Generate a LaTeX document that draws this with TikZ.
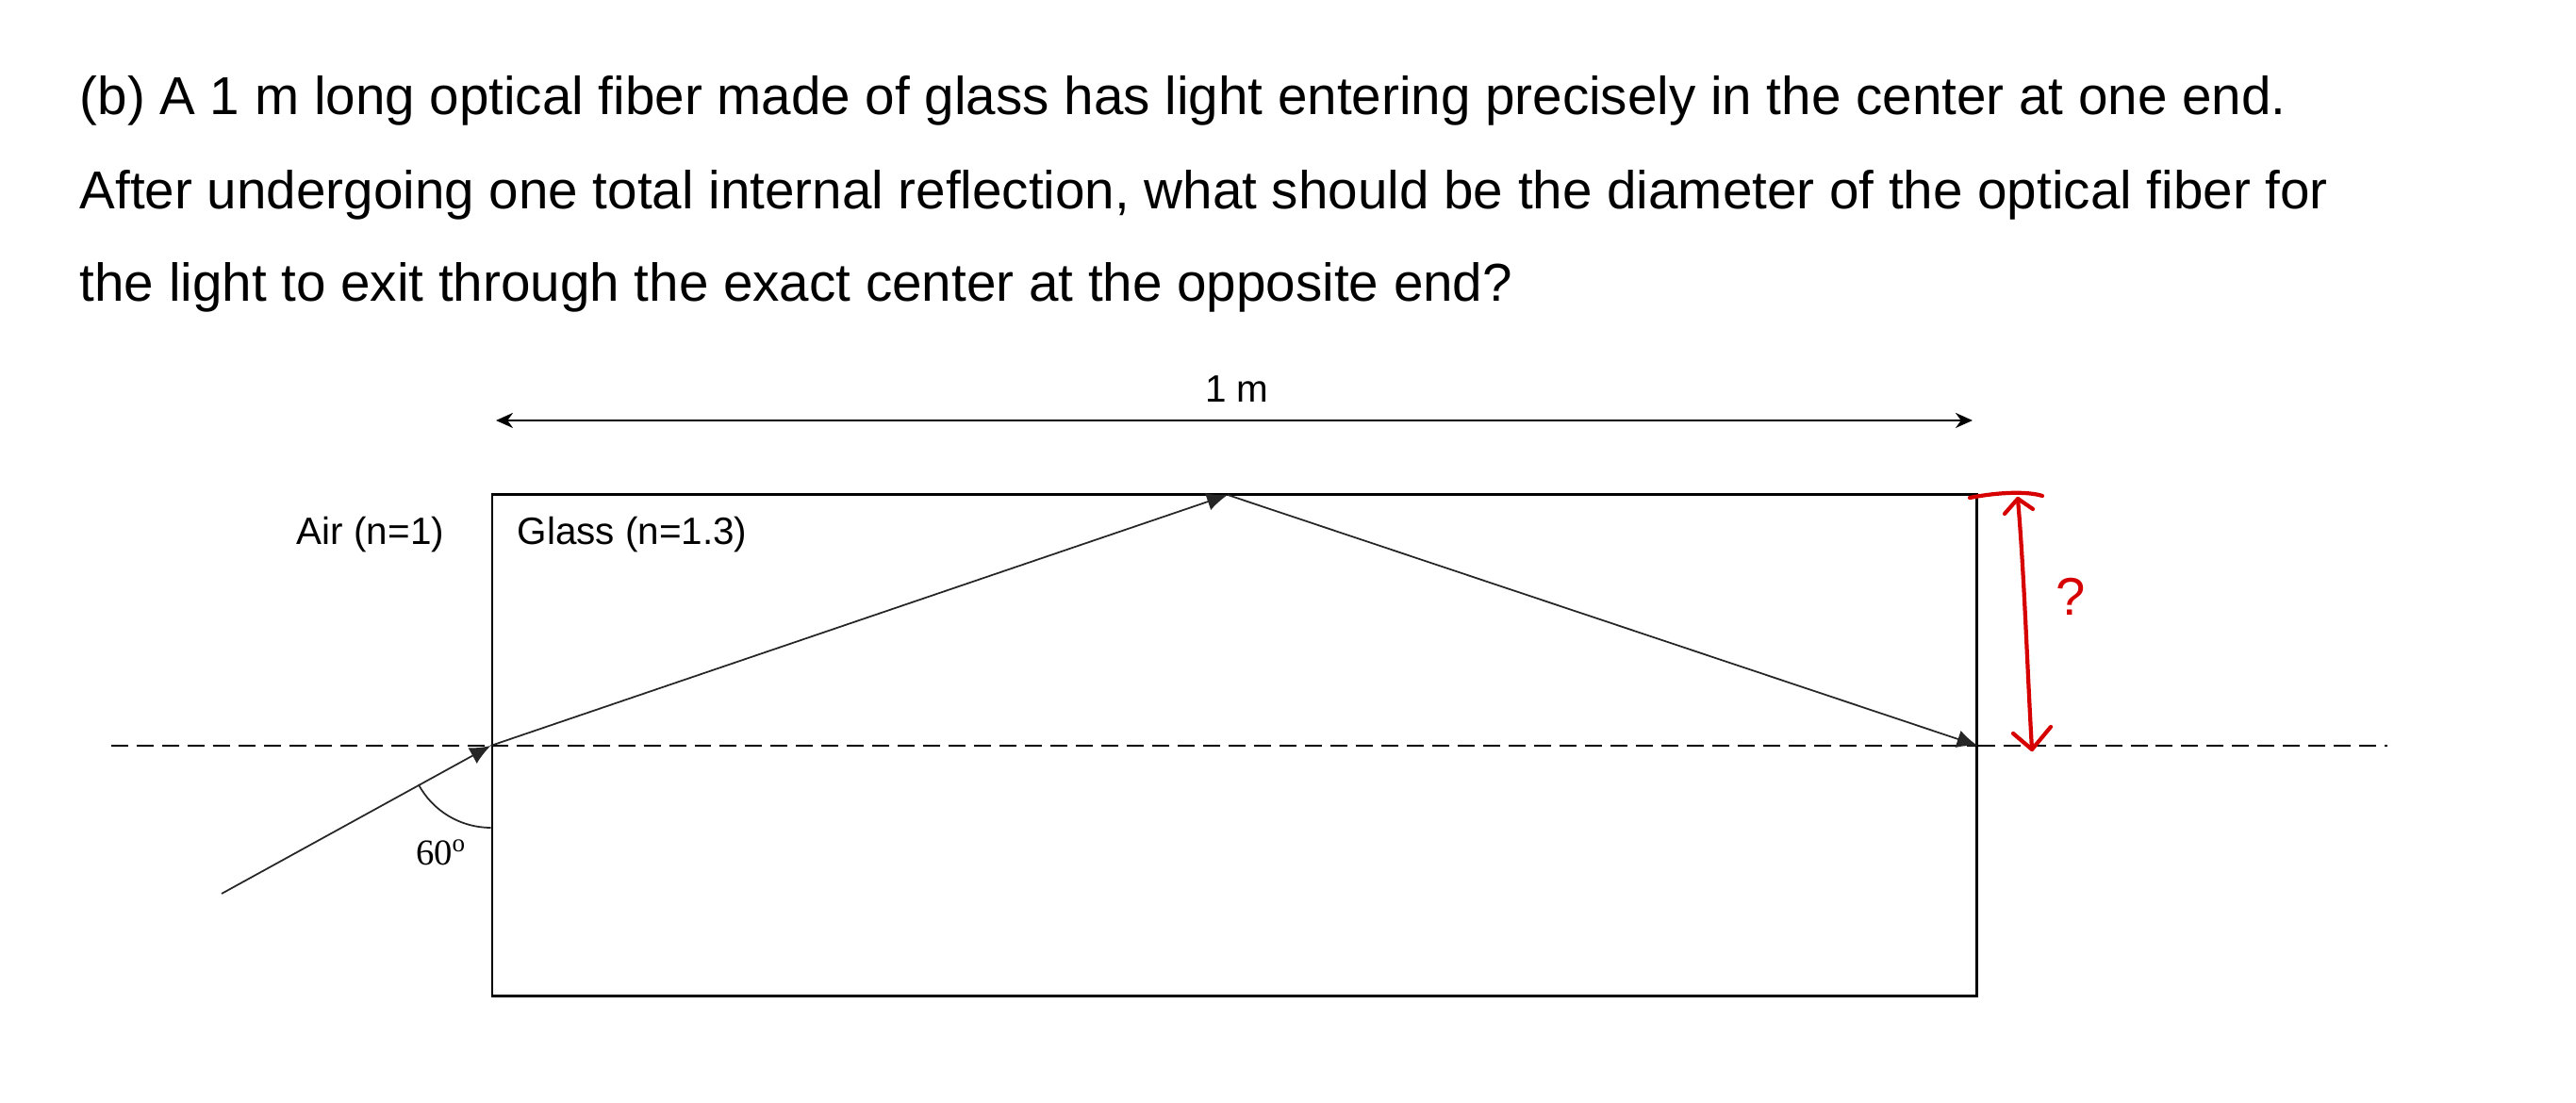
\documentclass[tikz,border=0pt]{standalone}
\usepackage{fontspec}
\setmainfont{Liberation Sans}
\newfontfamily\numfont{Liberation Serif}
\usepackage{tikz}
\usetikzlibrary{arrows.meta}
\definecolor{penred}{RGB}{214,0,0}
\tikzstyle{ray}=[draw=black!85,line width=0.5pt,
                 -{Latex[length=2.2mm,width=1.9mm]}]
\tikzstyle{axisline}=[draw=black,line width=0.6pt,
                      dash pattern=on 0.18cm off 0.09cm]
\tikzstyle{medium}=[font=\fontsize{11.5}{13}\selectfont,inner sep=0pt]
\tikzstyle{question}=[font=\fontsize{16.1}{19}\selectfont,
                      anchor=base west,inner sep=0pt]
\tikzstyle{pen}=[draw=penred,line width=1.2pt,line cap=round,line join=round]

\begin{document}
\begin{tikzpicture}
    \useasboundingbox (0,0) rectangle (27.32,11.70);
    % question text
    \node (q1) at (0.84,10.48) [question]
      {(b) A 1 m long optical fiber made of glass has light entering precisely in the center at one end.};
    \node (q2) at (0.84,9.48) [question]
      {After undergoing one total internal reflection, what should be the diameter of the optical fiber for};
    \node (q3) at (0.84,8.50) [question]
      {the light to exit through the exact center at the opposite end?};
    % fiber
    \node (fib) at (13.09,3.79) [draw,line width=0.85pt,minimum width=15.74cm,
                                 minimum height=5.32cm,inner sep=0pt]{};
    \draw[axisline] (1.18,3.79) -- (fib.west) (fib.east) -- (25.32,3.79);
    \draw[axisline] (fib.west) -- (fib.east);
    % length
    \coordinate (d1) at (5.26,7.24);
    \coordinate (d2) at (20.92,7.24);
    \draw[line width=0.7pt,{Stealth[length=1.8mm,width=1.6mm]}-{Stealth[length=1.8mm,width=1.6mm]}]
      (d1) -- (d2);
    \node (len) at (13.12,7.57) [medium]{1 m};
    \node (air) at (3.93,6.03) [medium]{Air (n=1)};
    \node (gls) at (5.48,6.03) [medium,anchor=west]{Glass (n=1.3)};
    % light path
    \coordinate (src) at (2.35,2.22);
    \coordinate (top) at (13.02,6.45);
    \draw[ray] (src) -- (fib.west);
    \draw[ray] (fib.west) -- (top);
    \draw[ray] (top) -- (fib.east);
    \draw[black!85,line width=0.5pt] (fib.west) ++(208.4:0.87) arc (208.4:270:0.87);
    \node (ang) at (4.68,2.66) [inner sep=0pt,font=\numfont\fontsize{11}{13}\selectfont]
      {60\textsuperscript{o}};
    % unknown half diameter
    \draw[pen] (20.89,6.42) .. controls (21.2,6.48) and (21.5,6.49) .. (21.66,6.44);
    \coordinate (h1) at (21.40,6.41);
    \coordinate (h2) at (21.55,3.75);
    \draw[pen] (h1) .. controls (21.47,5.6) and (21.5,4.6) .. (h2);
    \draw[pen] (21.26,6.25) -- (h1) -- (21.56,6.30);
    \draw[pen] (21.35,3.92) -- (h2) -- (21.75,3.99);
    \node (qm) at (21.96,5.37) [text=penred,inner sep=0pt,
                                font=\fontsize{16}{18}\selectfont]{?};
\end{tikzpicture}
\end{document}
